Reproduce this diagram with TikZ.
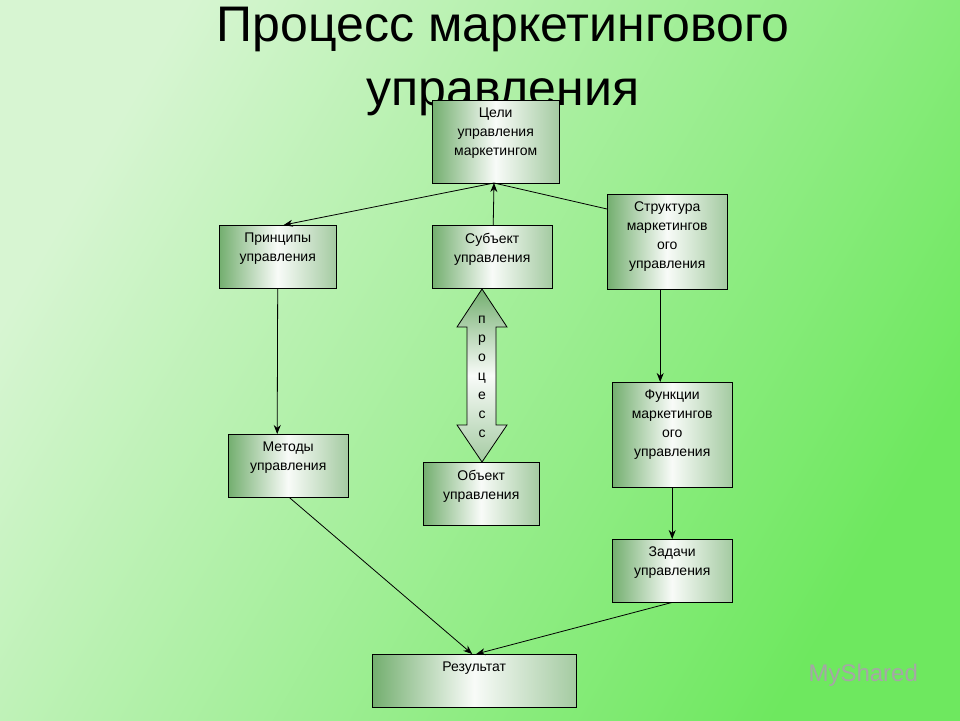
\documentclass[tikz,border=0pt]{standalone}
\usepackage{fontspec}
\setmainfont{Liberation Sans}
\usetikzlibrary{arrows.meta,calc}
\definecolor{bgl}{RGB}{215,245,210}
\definecolor{bgr}{RGB}{110,232,95}
\definecolor{bxg}{RGB}{90,160,85}
\tikzset{
  box/.style={draw=black, line width=0.8pt, shading=axis, shading angle=45, left color=bxg!85!white, right color=bxg!55!white, middle color=white!96!bxg, anchor=north west, inner sep=0pt},
  lbl/.style={anchor=north, align=center, font=\fontsize{14}{19}\selectfont, inner sep=0pt},
  con/.style={line width=0.8pt, -{Stealth[length=9pt,width=7pt]}},
  plain/.style={line width=0.8pt}
}
\newcommand{\bx}[6]{% name, x1,y1,x2,y2, text
  \path[box] (#2,#3) rectangle (#4,#5);
  \node[draw=none, minimum width=#4-#2, minimum height=#5-#3, anchor=north west, inner sep=0pt] (#1) at (#2,#3) {};
  \node[lbl] at ($(#1.north)+(0,8)$) {#6};}
\begin{document}
\begin{tikzpicture}[x=1pt,y=-1pt]
\useasboundingbox (0,0) rectangle (960,720);
\shade[left color=bgl, right color=bgr, shading angle=60] (0,0) rectangle (960,720);
\node[font=\fontsize{50}{64}\selectfont, align=center, anchor=north] (title) at (503,4) {Процесс маркетингового\\управления};
\bx{goal}{432}{100}{559}{183}{Цели\\управления\\маркетингом}
\bx{princ}{219}{225}{336}{288}{Принципы\\управления}
\bx{subj}{432}{225}{552}{288}{Субъект\\управления}
\bx{struct}{607}{194}{727}{289}{Структура\\маркетингов\\ого\\управления}
\bx{meth}{228}{434}{348}{497}{Методы\\управления}
\bx{obj}{423}{462}{539}{525}{Объект\\управления}
\bx{func}{612}{382}{732}{487}{Функции\\маркетингов\\ого\\управления}
\bx{task}{612}{539}{732}{602}{Задачи\\управления}
\bx{res}{372}{654}{576}{707}{Результат}
\path[box, shading angle=0] (482,289) -- (507,327) -- (496,327) -- (496,425) -- (507,425) -- (482,462) -- (457,425) -- (467,425) -- (467,327) -- (457,327) -- cycle;
\node[lbl] (proc) at (482,316) {п\\р\\о\\ц\\е\\с\\с};
\coordinate (g1) at (494,183);
\draw[con] (g1) -- ($(princ.north)+(6,0)$);
\draw[con] ($(subj.north)+(1,0)$) -- (g1);
\draw[plain] (g1) -- ($(struct.north west)+(0,15)$);
\draw[con] (princ.south) -- ($(meth.north)+(-11,0)$);
\draw[con] ($(struct.south)+(-7,0)$) -- ($(func.north)+(-12,0)$);
\draw[con] (func.south) -- (task.north);
\draw[con] ($(meth.south)+(1,0)$) -- ($(res.north)+(-2,0)$);
\draw[con] (task.south) -- ($(res.north)+(2,0)$);
\node[text=gray!70, font=\fontsize{24}{28}\selectfont, anchor=west] (logo) at (805,675) {MyShared};
\end{tikzpicture}
\end{document}
